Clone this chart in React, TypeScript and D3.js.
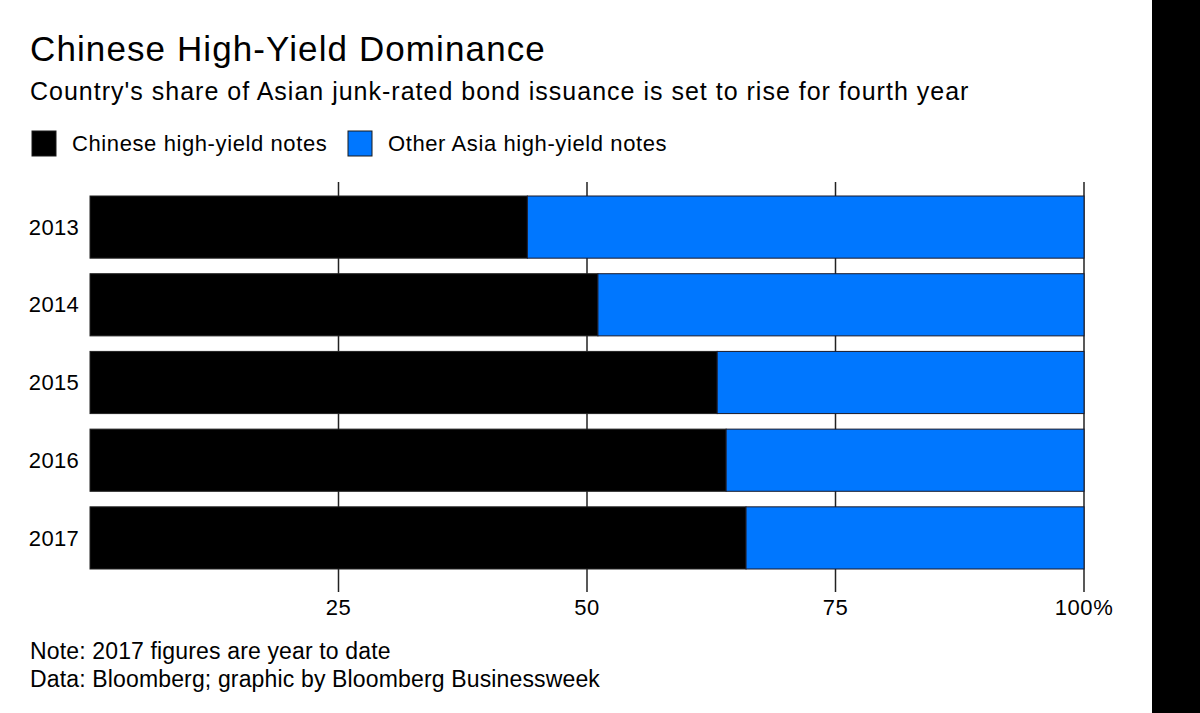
import React, { useEffect, useRef } from "react";
import * as d3 from "d3";

const years = ["2013", "2014", "2015", "2016", "2017"];
const chineseShare = [44.0, 51.1, 63.1, 64.0, 66.0];
const tickValues = [25, 50, 75, 100];
const tickLabels = ["25", "50", "75", "100%"];
const seriesNames = ["Chinese high-yield notes", "Other Asia high-yield notes"];
const seriesColors = ["#000000", "#0077ff"];

const W = 1200;
const H = 713;
const FONT = "'Liberation Sans', Arial, Helvetica, sans-serif";

export default function App() {
  const svgRef = useRef<SVGSVGElement>(null);

  useEffect(() => {
    if (!svgRef.current) return;
    const svg = d3.select(svgRef.current);
    svg.selectAll("*").remove();

    svg.append("rect").attr("width", W).attr("height", H).attr("fill", "#fff");
    // black strip on the right
    svg.append("rect").attr("x", 1152).attr("width", W - 1152).attr("height", H).attr("fill", "#000");

    const txt = (x: number, y: number, size: number, spacing: number, s: string) =>
      svg.append("text")
        .attr("x", x).attr("y", y)
        .style("font-family", FONT).style("font-size", `${size}px`)
        .style("letter-spacing", `${spacing}px`)
        .attr("fill", "#000")
        .text(s);

    // title block
    txt(30, 61, 35, 1.1, "Chinese High-Yield Dominance");
    txt(30, 100, 25, 1.0, "Country's share of Asian junk-rated bond issuance is set to rise for fourth year");

    // legend
    const legendX = [32, 348];
    seriesNames.forEach((name, i) => {
      svg.append("rect")
        .attr("x", legendX[i]).attr("y", 131)
        .attr("width", 24).attr("height", 25)
        .attr("fill", seriesColors[i])
        .attr("stroke", "#1a1a1a").attr("stroke-width", 1);
      txt(legendX[i] + 40, 151, 22, 0.6, name);
    });

    const x = d3.scaleLinear().domain([0, 100]).range([90, 1084]);
    const y = d3.scaleBand<string>().domain(years).range([196, 569]).paddingInner(0.2).paddingOuter(0);

    // gridlines / ticks
    const grid = svg.append("g");
    tickValues.forEach((t) => {
      grid.append("line")
        .attr("x1", x(t)).attr("x2", x(t))
        .attr("y1", 182).attr("y2", 592)
        .attr("stroke", "#222").attr("stroke-width", 1.5);
    });

    // bars
    const bars = svg.append("g");
    years.forEach((yr, i) => {
      const v = chineseShare[i];
      bars.append("rect")
        .attr("x", x(0)).attr("y", y(yr)!)
        .attr("width", x(v) - x(0)).attr("height", y.bandwidth())
        .attr("fill", seriesColors[0])
        .attr("stroke", "#222").attr("stroke-width", 1);
      bars.append("rect")
        .attr("x", x(v)).attr("y", y(yr)!)
        .attr("width", x(100) - x(v)).attr("height", y.bandwidth())
        .attr("fill", seriesColors[1])
        .attr("stroke", "#1a1a2a").attr("stroke-width", 1);
      txt(79, y(yr)! + y.bandwidth() / 2, 22, 0.3, yr)
        .attr("dy", "0.35em")
        .attr("text-anchor", "end");
    });

    // tick labels
    tickValues.forEach((t, i) => {
      txt(x(t), 615, 22, 0.6, tickLabels[i]).attr("text-anchor", "middle");
    });

    // footnotes
    txt(30, 659, 23, 0.15, "Note: 2017 figures are year to date");
    txt(30, 687, 23, 0.15, "Data: Bloomberg; graphic by Bloomberg Businessweek");
  }, []);

  return (
    <svg
      ref={svgRef}
      width={W}
      height={H}
      style={{ position: "absolute", left: 0, top: 0, display: "block" }}
    ></svg>
  );
}
